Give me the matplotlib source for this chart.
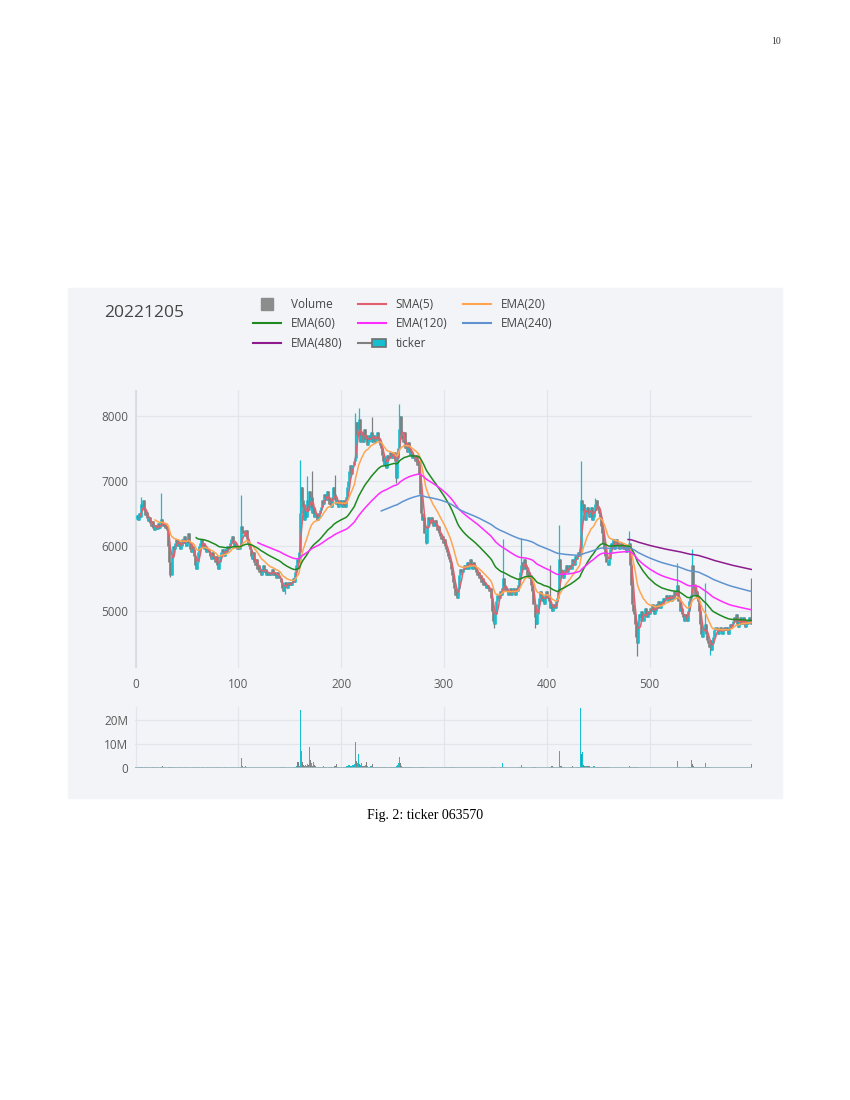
import numpy as np
import pandas as pd
import matplotlib
matplotlib.use("Agg")
import matplotlib.pyplot as plt
from matplotlib.lines import Line2D
from matplotlib.patches import Patch, Rectangle
from matplotlib.legend_handler import HandlerTuple

# ---- data (daily closes, 600 bars) ----
CLOSE = [
    6420, 6480, 6400, 6500, 6450, 6650, 6580, 6700, 6550, 6480,
    6520, 6430, 6380, 6450, 6350, 6300, 6380, 6280, 6250, 6320,
    6300, 6260, 6350, 6280, 6300, 6420, 6350, 6300, 6330, 6280,
    6300, 6250, 6000, 5750, 5550, 5850, 6000, 5950, 6050, 6100,
    6000, 6080, 6050, 5950, 6000, 6100, 6050, 6150, 6050, 6000,
    6100, 6200, 6050, 5950, 5900, 6000, 5950, 5850, 5700, 5650,
    5750, 5900, 6000, 6050, 6100, 6000, 6050, 5950, 6000, 5900,
    5950, 5900, 5850, 5800, 5900, 5850, 5800, 5750, 5850, 5700,
    5650, 5750, 5850, 5900, 5950, 5900, 5850, 5950, 5900, 6000,
    5950, 6000, 6050, 6100, 6150, 6050, 6000, 6050, 6000, 5950,
    6000, 5950, 6000, 6300, 6250, 6200, 6150, 6250, 6100, 6050,
    6000, 5950, 5850, 5800, 5900, 5750, 5700, 5800, 5650, 5700,
    5600, 5650, 5550, 5600, 5700, 5600, 5650, 5550, 5600, 5550,
    5600, 5550, 5600, 5650, 5550, 5600, 5550, 5500, 5600, 5550,
    5500, 5450, 5350, 5300, 5400, 5450, 5400, 5350, 5450, 5400,
    5450, 5400, 5450, 5500, 5450, 5600, 5700, 5800, 5750, 5900,
    6500, 6900, 6700, 6600, 6400, 6550, 6450, 6700, 6550, 6850,
    6600, 6750, 6500, 6600, 6450, 6500, 6400, 6450, 6500, 6550,
    6600, 6700, 6650, 6800, 6750, 6700, 6850, 6750, 6650, 6700,
    6600, 6750, 6900, 6800, 6700, 6650, 6700, 6600, 6650, 6700,
    6650, 6600, 6700, 6650, 6600, 6750, 6900, 7000, 7150, 7250,
    7100, 7250, 7300, 7350, 7900, 7700, 7800, 7950, 7600, 7700,
    7750, 7600, 7800, 7650, 7700, 7550, 7600, 7700, 7650, 7750,
    7600, 7700, 7650, 7600, 7700, 7750, 7650, 7600, 7550, 7500,
    7400, 7300, 7250, 7350, 7200, 7400, 7350, 7450, 7400, 7350,
    7400, 7450, 7300, 7050, 7350, 7500, 7800, 8000, 7700, 7650,
    7600, 7750, 7500, 7550, 7450, 7600, 7500, 7400, 7450, 7350,
    7400, 7350, 7300, 7400, 7250, 7300, 7100, 6800, 6500, 6400,
    6450, 6200, 6050, 6300, 6450, 6400, 6350, 6450, 6400, 6300,
    6350, 6400, 6300, 6250, 6300, 6200, 6150, 6100, 6150, 6050,
    6100, 6000, 5950, 5900, 5850, 5800, 5750, 5650, 5550, 5450,
    5350, 5250, 5300, 5200, 5350, 5550, 5650, 5600, 5650, 5700,
    5650, 5700, 5750, 5650, 5700, 5800, 5700, 5650, 5750, 5700,
    5650, 5600, 5550, 5600, 5500, 5550, 5450, 5500, 5400, 5450,
    5400, 5350, 5400, 5350, 5300, 5350, 5200, 5000, 4850, 4800,
    4950, 5150, 5250, 5200, 5300, 5250, 5350, 5500, 5400, 5300,
    5350, 5300, 5250, 5300, 5350, 5250, 5300, 5350, 5300, 5250,
    5350, 5300, 5400, 5500, 5600, 5700, 5750, 5650, 5800, 5700,
    5650, 5550, 5600, 5500, 5550, 5400, 5300, 5100, 4900, 4800,
    4950, 5100, 5200, 5300, 5250, 5150, 5200, 5100, 5250, 5300,
    5200, 5250, 5150, 5050, 5100, 5000, 5050, 5100, 5050, 5150,
    5200, 5300, 5800, 5650, 5550, 5600, 5500, 5600, 5650, 5700,
    5600, 5650, 5700, 5650, 5800, 5750, 5700, 5850, 5800, 5850,
    5900, 5850, 5950, 6700, 6550, 6650, 6500, 6400, 6550, 6600,
    6500, 6450, 6550, 6600, 6400, 6450, 6550, 6650, 6700, 6600,
    6550, 6500, 6450, 6300, 6200, 6050, 5950, 5850, 5750, 5700,
    5800, 5950, 6050, 6000, 6100, 5950, 6050, 6100, 6000, 6050,
    5950, 6000, 6050, 6000, 5950, 6000, 5950, 5900, 6000, 5950,
    6050, 5700, 5400, 5100, 5000, 4950, 4800, 4600, 4500, 4850,
    4950, 4900, 5000, 4850, 4900, 5050, 4950, 4900, 5000, 4950,
    5050, 5000, 5100, 5050, 4950, 5000, 5100, 5050, 5150, 5100,
    5050, 5150, 5100, 5200, 5150, 5200, 5250, 5200, 5150, 5250,
    5200, 5150, 5250, 5200, 5300, 5250, 5300, 5400, 5150, 5000,
    5050, 4950, 4900, 4850, 4950, 4900, 4850, 5000, 5150, 5200,
    5250, 5700, 5400, 5350, 5250, 5300, 5200, 5150, 5000, 4800,
    4650, 4600, 4700, 4750, 4800, 4650, 4550, 4500, 4450, 4550,
    4400, 4500, 4600, 4700, 4750, 4700, 4650, 4700, 4750, 4700,
    4650, 4700, 4750, 4700, 4750, 4700, 4650, 4750, 4800, 4750,
    4800, 4850, 4900, 4850, 4950, 4800, 4750, 4850, 4900, 4800,
    4850, 4900, 4800, 4750, 4850, 4800, 4850, 4900, 4850, 4800,
]

# upper / lower wicks that stand out from the bodies
SPIKE_BARS = [5, 25, 103, 160, 167, 172, 194, 213, 217, 230, 256,
              357, 375, 403, 412, 433, 447, 480, 527, 541, 554, 599]
SPIKE_HIGHS = [6760, 6820, 6780, 7330, 7080, 7150, 7090, 8050, 8130, 7990, 8180,
               6100, 6130, 5700, 6330, 7310, 6740, 6230, 5740, 5950, 5430, 5500]
DIP_BARS = [34, 145, 253, 282, 349, 388, 488, 559]
DIP_LOWS = [5520, 5260, 6970, 6030, 4740, 4740, 4310, 4330]

# volume in millions of shares
VOLUME_M = [
    0.3, 0.2, 0.3, 0.2, 0.4, 0.5, 0.3, 0.4, 0.2, 0.3, 0.2, 0.3, 0.2, 0.2, 0.3, 0.2, 0.2, 0.3, 0.2, 0.3,
    0.2, 0.3, 0.2, 0.2, 0.3, 0.6, 1.0, 0.4, 0.2, 0.3, 0.2, 0.2, 0.4, 0.5, 0.6, 0.4, 0.3, 0.2, 0.3, 0.2,
    0.2, 0.2, 0.3, 0.2, 0.2, 0.3, 0.2, 0.2, 0.2, 0.3, 0.2, 0.4, 0.2, 0.2, 0.2, 0.3, 0.2, 0.2, 0.3, 0.2,
    0.2, 0.3, 0.2, 0.2, 0.2, 0.3, 0.2, 0.2, 0.2, 0.2, 0.3, 0.2, 0.2, 0.2, 0.2, 0.2, 0.3, 0.2, 0.2, 0.2,
    0.3, 0.2, 0.2, 0.2, 0.2, 0.2, 0.2, 0.3, 0.2, 0.2, 0.2, 0.2, 0.2, 0.2, 0.2, 0.2, 0.2, 0.2, 0.2, 0.2,
    0.2, 0.2, 0.3, 4.1, 0.8, 0.4, 0.3, 0.7, 0.3, 0.2, 0.2, 0.2, 0.2, 0.2, 0.2, 0.2, 0.2, 0.2, 0.2, 0.2,
    0.2, 0.2, 0.2, 0.2, 0.2, 0.2, 0.2, 0.2, 0.2, 0.2, 0.2, 0.2, 0.2, 0.2, 0.2, 0.2, 0.2, 0.2, 0.2, 0.2,
    0.2, 0.2, 0.3, 0.3, 0.2, 0.3, 0.2, 0.2, 0.2, 0.2, 0.2, 0.2, 0.2, 0.2, 0.2, 0.3, 0.6, 0.8, 2.3, 1.0,
    24.0, 7.0, 2.5, 1.2, 0.9, 1.1, 0.8, 1.6, 1.2, 8.7, 3.5, 2.0, 1.0, 2.5, 1.2, 0.8, 0.6, 0.5, 0.4, 0.3,
    0.4, 0.3, 0.3, 0.7, 0.3, 0.4, 0.3, 0.2, 0.3, 0.4, 0.3, 0.3, 0.3, 0.4, 1.0, 1.5, 0.4, 0.3, 0.3, 0.2,
    0.3, 0.2, 0.3, 0.4, 0.3, 0.8, 1.0, 1.1, 1.2, 0.9, 1.0, 1.4, 1.2, 1.6, 11.0, 3.0, 2.0, 6.0, 1.5, 1.2,
    2.0, 1.0, 0.8, 0.7, 1.2, 2.5, 1.0, 0.6, 0.5, 0.7, 1.5, 0.6, 0.4, 0.3, 0.4, 0.3, 0.3, 0.3, 0.4, 0.3,
    0.3, 0.3, 0.4, 0.3, 0.3, 0.3, 0.2, 0.3, 0.3, 0.3, 0.3, 0.4, 0.3, 0.5, 0.8, 1.2, 2.0, 4.5, 2.0, 0.8,
    0.6, 0.5, 0.4, 0.4, 0.3, 0.3, 0.3, 0.4, 0.3, 0.3, 0.2, 0.3, 0.2, 0.2, 0.3, 0.2, 0.3, 0.4, 0.3, 0.3,
    0.3, 0.2, 0.3, 0.2, 0.2, 0.2, 0.2, 0.2, 0.2, 0.2, 0.2, 0.2, 0.2, 0.2, 0.2, 0.2, 0.2, 0.2, 0.2, 0.2,
    0.2, 0.2, 0.3, 0.2, 0.2, 0.2, 0.3, 0.2, 0.3, 0.2, 0.3, 0.2, 0.2, 0.2, 0.2, 0.2, 0.2, 0.2, 0.2, 0.2,
    0.2, 0.2, 0.2, 0.2, 0.2, 0.2, 0.2, 0.2, 0.2, 0.2, 0.2, 0.2, 0.2, 0.2, 0.2, 0.2, 0.2, 0.2, 0.2, 0.2,
    0.2, 0.2, 0.2, 0.2, 0.2, 0.2, 0.3, 0.4, 0.5, 0.4, 0.3, 0.2, 0.2, 0.2, 0.2, 0.3, 0.4, 2.0, 0.6, 0.3,
    0.2, 0.2, 0.2, 0.2, 0.2, 0.2, 0.2, 0.2, 0.2, 0.2, 0.2, 0.2, 0.2, 0.3, 0.3, 1.2, 0.5, 0.3, 0.3, 0.2,
    0.2, 0.2, 0.2, 0.2, 0.2, 0.2, 0.3, 0.3, 0.4, 0.3, 0.2, 0.2, 0.2, 0.2, 0.2, 0.2, 0.2, 0.2, 0.2, 0.2,
    0.2, 0.2, 0.2, 0.3, 0.4, 0.8, 0.3, 0.2, 0.2, 0.2, 0.2, 0.3, 7.0, 1.0, 0.8, 0.4, 0.3, 0.3, 0.2, 0.2,
    0.2, 0.2, 0.2, 0.3, 0.3, 0.8, 0.3, 0.2, 0.2, 0.3, 0.3, 0.3, 0.4, 25.0, 6.0, 6.5, 1.2, 1.0, 0.9, 0.7,
    1.0, 0.8, 0.6, 0.5, 0.6, 0.8, 0.7, 0.5, 0.4, 0.4, 0.3, 0.3, 0.3, 0.3, 0.3, 0.3, 0.3, 0.3, 0.3, 0.3,
    0.3, 0.3, 0.2, 0.2, 0.2, 0.2, 0.2, 0.2, 0.2, 0.2, 0.2, 0.2, 0.2, 0.2, 0.2, 0.2, 0.2, 0.2, 0.2, 0.2,
    1.0, 0.6, 0.5, 0.4, 0.3, 0.3, 0.3, 0.4, 0.5, 0.3, 0.2, 0.2, 0.2, 0.2, 0.2, 0.2, 0.2, 0.2, 0.2, 0.2,
    0.2, 0.2, 0.2, 0.2, 0.2, 0.2, 0.2, 0.2, 0.2, 0.2, 0.2, 0.2, 0.2, 0.2, 0.2, 0.2, 0.2, 0.2, 0.2, 0.2,
    0.2, 0.2, 0.2, 0.2, 0.2, 0.2, 0.3, 3.0, 0.6, 0.3, 0.2, 0.2, 0.2, 0.2, 0.2, 0.2, 0.2, 0.2, 0.3, 0.3,
    0.4, 3.2, 1.5, 0.8, 0.4, 0.3, 0.3, 0.3, 0.3, 0.4, 0.3, 0.3, 0.3, 0.3, 2.0, 0.5, 0.3, 0.3, 0.3, 0.2,
    0.2, 0.2, 0.2, 0.2, 0.2, 0.2, 0.2, 0.2, 0.2, 0.2, 0.2, 0.2, 0.2, 0.2, 0.2, 0.2, 0.2, 0.2, 0.2, 0.2,
    0.2, 0.2, 0.2, 0.2, 0.2, 0.2, 0.2, 0.2, 0.2, 0.2, 0.2, 0.2, 0.2, 0.2, 0.2, 0.2, 0.2, 0.2, 0.2, 1.5,
]

MA_SPANS = [20, 60, 120, 240, 480]
MA_COLORS = {5: "#e2606e", 20: "#ffa550", 60: "#1f8a1f", 120: "#ff2cff",
             240: "#5f93d0", 480: "#8e1a8e"}
TITLE = "20221205"
CAPTION = "Fig. 2: ticker 063570"
PAGE_NO = "10"

UP = "#17becf"
DOWN = "#7f7f7f"
BG = "#f3f4f8"
GRID = "#e2e5eb"
TXT = "#5b5b5b"
FONT = "Open Sans"

# ---- derived series ----
close = np.array(CLOSE, dtype=float)
x = np.arange(len(close))
opn = np.r_[close[0], close[:-1]]
high = np.maximum(opn, close)
low = np.minimum(opn, close)
high[SPIKE_BARS] = SPIKE_HIGHS
low[DIP_BARS] = DIP_LOWS
colors = np.where(close >= opn, UP, DOWN)

s = pd.Series(close)
sma5 = s.rolling(5).mean()
emas = {k: s.ewm(span=k, adjust=False, min_periods=k).mean() for k in MA_SPANS}

W, H = 850, 1100
fig = plt.figure(figsize=(W / 100, H / 100), dpi=100)
fig.patch.set_facecolor("white")

# plotly-like paper area
fig.add_artist(Rectangle((68 / W, 1 - 798 / H), (782 - 68) / W, (798 - 288) / H,
                         transform=fig.transFigure, color=BG, zorder=0))

ax = fig.add_axes([135 / W, 1 - 668 / H, 617 / W, 278 / H])
axv = fig.add_axes([135 / W, 1 - 768 / H, 617 / W, 61 / H])

for a in (ax, axv):
    a.set_facecolor(BG)
    for sp in a.spines.values():
        sp.set_visible(False)
    a.tick_params(length=0, labelsize=8.5, labelcolor=TXT, pad=5)
    a.set_xlim(-0.5, 599.5)
    a.set_xticks([0, 100, 200, 300, 400, 500])
    a.grid(True, color=GRID, lw=0.9)
    a.set_axisbelow(True)

# candlesticks
ax.vlines(x, low, high, colors=colors, lw=0.9, zorder=2)
ax.vlines(x, opn, close, colors=colors, lw=1.9, zorder=2)

ax.plot(x, sma5, color=MA_COLORS[5], lw=1.1, zorder=3)
for k in MA_SPANS:
    ax.plot(x, emas[k], color=MA_COLORS[k], lw=1.1, zorder=3)

ax.axvline(0, color="#d6d9e0", lw=1.2, zorder=1)
ax.set_ylim(4123, 8400)
ax.set_yticks([5000, 6000, 7000, 8000])
for lab in ax.get_xticklabels() + ax.get_yticklabels():
    lab.set_family(FONT)
ax.tick_params(axis="x", pad=7)

# volume
axv.bar(x, VOLUME_M, width=1.0, color=colors, lw=0, zorder=2)
axv.axhline(0, color="#9fb7bd", lw=1.3, zorder=3)
axv.set_ylim(0, 25.4)
axv.set_yticks([0, 10, 20])
axv.set_yticklabels(["0", "10M", "20M"], family=FONT)
axv.set_xticklabels([])

# title
fig.text(104 / W, 1 - 313 / H, TITLE, fontsize=12.5, color="#454545",
         ha="left", va="center", family=FONT)

# legend (column-major order so rows read like the reference)
h_vol = Line2D([], [], marker="s", color="#8c8c8c", ls="none", markersize=8)
h_line = {k: Line2D([], [], color=c, lw=1.5) for k, c in MA_COLORS.items()}
h_tick = (Line2D([], [], color=DOWN, lw=1.5),
          Patch(facecolor=UP, edgecolor="#6f6f6f", lw=1.2))
handles = [h_vol, h_line[60], h_line[480], h_line[5], h_line[120], h_tick,
           h_line[20], h_line[240]]
labels = ["Volume", "EMA(60)", "EMA(480)", "SMA(5)", "EMA(120)", "ticker",
          "EMA(20)", "EMA(240)"]
leg = fig.legend(handles, labels, loc="upper left",
                 bbox_to_anchor=(253 / W, 1 - 298 / H), ncol=3, frameon=False,
                 handlelength=2.4, handletextpad=0.8,
                 columnspacing=1.3, labelspacing=0.55, borderpad=0,
                 borderaxespad=0, handler_map={tuple: HandlerTuple(ndivide=None)},
                 prop={"family": FONT, "size": 8.5})
for t in leg.get_texts():
    t.set_color("#454545")

# page furniture
fig.text(0.5, 1 - 815 / H, CAPTION, ha="center", va="center", fontsize=10,
         family="Liberation Serif", color="black")
fig.text(776 / W, 1 - 41 / H, PAGE_NO, ha="center", va="center", fontsize=7,
         family="Liberation Serif", color="#333")

fig.savefig("out.png", dpi=100)
